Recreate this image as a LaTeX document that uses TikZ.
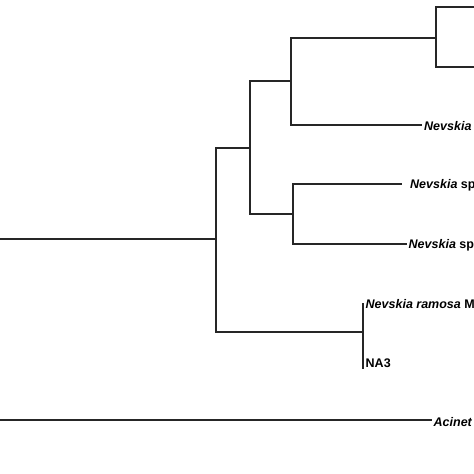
\documentclass[tikz,border=0pt]{standalone}
\usepackage{fontspec}
\setmainfont{Liberation Sans}
\begin{document}
\begin{tikzpicture}[x=1pt,y=1pt,
  branch/.style={draw=black!85, line width=1.7pt},
  leaflabel/.style={anchor=west, inner sep=0pt, font=\fontsize{12.5}{14}\selectfont\bfseries}]
\useasboundingbox (0,0) rectangle (474,474);
\clip (0,0) rectangle (474,474);
% internal nodes
\coordinate (root) at (-2,235);
\coordinate (A) at (215.7,235);
\coordinate (B) at (250,325.7);
\coordinate (C) at (363.3,142.3);
\coordinate (D) at (290.7,393);
\coordinate (E) at (293.3,260);
\coordinate (F) at (436,436.3);
% leaves
\coordinate (F1) at (480,467.3);
\coordinate (F2) at (480,407.3);
\coordinate (L1) at (421.7,349);
\coordinate (L2) at (401.7,290);
\coordinate (L3) at (406.7,230);
\coordinate (L4) at (363.3,171);
\coordinate (L5) at (363.3,105);
\coordinate (outroot) at (-2,54);
\coordinate (L6) at (431.7,54);
% labels
\node[leaflabel] (t1) at (424,347.5) {\itshape Nevskia};
\node[leaflabel] (t2) at (410,288.5) {\textit{Nevskia} sp};
\node[leaflabel] (t3) at (408.5,228.5) {\textit{Nevskia} sp};
\node[leaflabel] (t4) at (365.5,169.5) {\textit{Nevskia ramosa} M};
\node[leaflabel] (t5) at (365.5,111) {NA3};
\node[leaflabel] (t6) at (433.5,51.5) {\itshape Acinet};
% branches
\draw[branch] (root) -- (A);
\draw[branch] (A) |- (B);
\draw[branch] (A) |- (C);
\draw[branch] (B) |- (D);
\draw[branch] (B) |- (E);
\draw[branch] (D) |- (F);
\draw[branch] (D) |- (L1);
\draw[branch] (F) |- (F1);
\draw[branch] (F) |- (F2);
\draw[branch] (E) |- (L2);
\draw[branch] (E) |- (L3);
\draw[branch] (C) -- (L4);
\draw[branch] (C) -- (L5);
\draw[branch] (outroot) -- (L6);
\end{tikzpicture}
\end{document}
